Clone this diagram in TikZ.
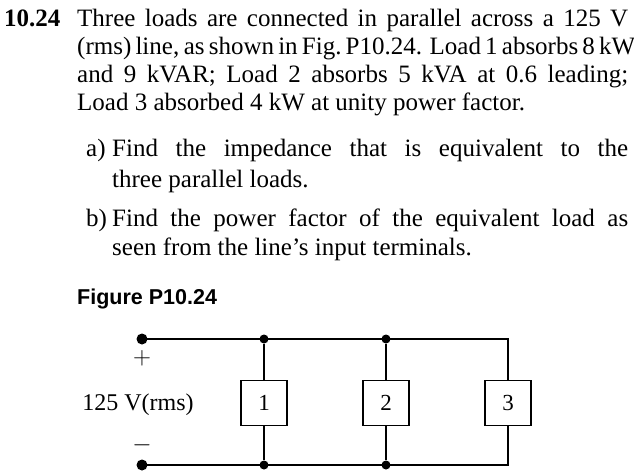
\documentclass[tikz,border=0pt]{standalone}
\usepackage{fontspec}
\setmainfont{Liberation Serif}
\setsansfont{Liberation Sans}
\begin{document}
\begin{tikzpicture}[x=1pt,y=-1pt]
    \tikzset{body/.style={anchor=base west,inner sep=0pt,font=\fontsize{25}{28}\selectfont},
        load box/.style={draw,line width=1.5pt,minimum width=46pt,minimum height=45pt,font=\fontsize{23}{26}\selectfont},
        wire/.style={line width=1.5pt},
        term/.style={circle,fill,inner sep=0pt,minimum size=11pt},
        junc/.style={circle,fill,inner sep=0pt,minimum size=9pt}}
    \useasboundingbox (0,0) rectangle (634,476);
    % problem text
    \node[body,font=\fontsize{25}{28}\selectfont\bfseries] (num) at (4,27) {10.24};
    \node[body] (l1) at (77,27) {\makebox[551pt][s]{Three loads are connected in parallel across a 125 V}};
    \node[body] (l2) at (77,55) {\makebox[551pt][s]{(rms) line, as shown in Fig.\,P10.24. Load 1 absorbs 8\,kW}};
    \node[body] (l3) at (77,83) {\makebox[551pt][s]{and 9 kVAR; Load 2 absorbs 5 kVA at 0.6 leading;}};
    \node[body] (l4) at (77,111) {Load 3 absorbed 4 kW at unity power factor.};
    \node[body] (a) at (86,157) {a)};
    \node[body] (a1) at (112,157) {\makebox[516pt][s]{Find the impedance that is equivalent to the}};
    \node[body] (a2) at (112,187) {three parallel loads.};
    \node[body] (b) at (86,226) {b)};
    \node[body] (b1) at (112,226) {\makebox[516pt][s]{Find the power factor of the equivalent load as}};
    \node[body] (b2) at (112,255) {seen from the line's input terminals.};
    \node[body,font=\fontsize{21.5}{24}\selectfont\sffamily\bfseries] (fig) at (77,304) {Figure P10.24};
    % circuit
    \node[term] (tp) at (142,339) {};
    \node[term] (tm) at (142,465) {};
    \node[junc] (j1) at (264,339) {};
    \node[junc] (j2) at (386,339) {};
    \node[junc] (k1) at (264,465) {};
    \node[junc] (k2) at (386,465) {};
    \coordinate (c3) at (508,339);
    \coordinate (d3) at (508,465);
    \node[load box] (z1) at (264,403) {1};
    \node[load box] (z2) at (386,403) {2};
    \node[load box] (z3) at (508,403) {3};
    \draw[wire] (tp.center) -- (c3) -- (z3.north);
    \draw[wire] (z3.south) -- (d3) -- (tm.center);
    \draw[wire] (j1) -- (z1) -- (k1);
    \draw[wire] (j2) -- (z2) -- (k2);
    \node[font=\fontsize{23}{26}\selectfont] (plus) at (142,358) {$+$};
    \node[font=\fontsize{23}{26}\selectfont] (minus) at (142,445) {$-$};
    \node[font=\fontsize{24}{26}\selectfont] (src) at (138,405) {125 V(rms)};
\end{tikzpicture}
\end{document}
